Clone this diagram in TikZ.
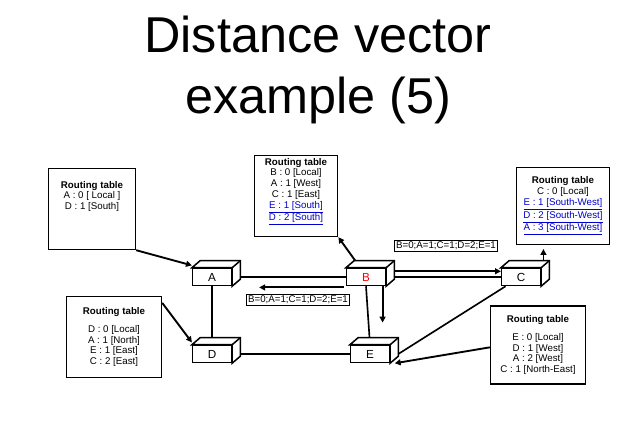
\documentclass[tikz,border=0pt]{standalone}
\usepackage{fontspec}
\setmainfont{Liberation Sans}
\usetikzlibrary{positioning,arrows.meta,calc}

\tikzset{
  router/.style={draw, line width=1.3pt, fill=white, minimum width=33pt, minimum height=14.5pt, inner sep=0pt, font=\fontsize{10}{11}\selectfont},
  table/.style={draw, line width=1.3pt, align=center, inner sep=1pt, font=\fontsize{8.3}{9.2}\selectfont},
  msg/.style={draw, line width=1pt, inner sep=1.5pt, font=\fontsize{8.3}{9}\selectfont},
  link/.style={line width=1.4pt},
  flow/.style={line width=1.6pt, -{Triangle[length=5pt,width=5pt]}}
}
\newcommand{\hl}[1]{\textcolor{blue!80!black}{\underline{#1}}}
% cube-like router: front face plus top and side
\newcommand{\cube}[1]{%
  \draw[line width=1.3pt, fill=white] (#1.north west) -- ++(7pt,6pt) -- ($(#1.north east)+(7pt,6pt)$) -- ($(#1.south east)+(7pt,6pt)$) -- (#1.south east) -- (#1.north east) -- cycle;
  \draw[line width=1.3pt] (#1.north east) -- ++(7pt,6pt);}

\begin{document}
\begin{tikzpicture}[x=0.03cm,y=-0.03cm]
\useasboundingbox (0,0) rectangle (638,442);

% title
\node[font=\fontsize{43}{52}\selectfont, align=center] (title) at (318,70) {Distance vector\\example (5)};

% routers
\node[router] (A) at (212,277) {A};
\node[router] (B) at (366,277) {\textcolor{red}{B}};
\node[router] (C) at (521,277) {C};
\node[router] (D) at (212,354) {D};
\node[router] (E) at (370,354) {E};

% links
\draw[link] (A.east) -- (B.west);
\draw[link] ($(B.east)+(7pt,0)$) -- (C.west);
\draw[link] (A.south) -- (D.north);
\draw[link] ($(D.east)+(7pt,0)$) -- (E.west);
\draw[link] (B.south) -- (E.north);
\draw[link] ($(C.south west)+(4pt,0)$) -- ($(E.east)+(7pt,0)$);
\foreach \r in {A,B,C,D,E} {\cube{\r}}

% tables
\node[table, minimum width=74pt, minimum height=69pt] (tA) at (92,209)
  {\textbf{Routing table}\\A : 0 [ Local ]\\D : 1 [South]\\[14pt]};
\node[table, minimum width=71pt, minimum height=69pt] (tB) at (296,196)
  {\textbf{Routing table}\\B : 0 [Local]\\A : 1 [West]\\C : 1 [East]\\\hl{E : 1 [South]}\\\hl{D : 2 [South]}\\[2pt]};
\node[table, minimum width=79pt, minimum height=66pt] (tC) at (563,206)
  {\textbf{Routing table}\\C : 0 [Local]\\\hl{E : 1 [South-West]}\\\hl{D : 2 [South-West]}\\\hl{A : 3 [South-West]}};
\node[table, minimum width=81pt, minimum height=69pt] (tD) at (114,337)
  {\textbf{Routing table}\\[6pt]D : 0 [Local]\\A : 1 [North]\\E : 1 [East]\\C : 2 [East]};
\node[table, minimum width=81pt, minimum height=67pt] (tE) at (538,345)
  {\textbf{Routing table}\\[6pt]E : 0 [Local]\\D : 1 [West]\\A : 2 [West]\\C : 1 [North-East]};

% messages
\node[msg] (mC) at (446,246) {B=0;A=1;C=1;D=2;E=1};
\node[msg] (mA) at (298,300) {B=0;A=1;C=1;D=2;E=1};

% flows
\draw[flow] ($(B.north east)+(7pt,-3pt)$) -- ($(C.north west)+(0,-3pt)$);
\draw[flow] ($(B.south west)+(-2pt,-1pt)$) -- ++(-72pt,0);
\draw[flow] ($(B.south east)+(-3pt,0)$) -- ++(0,-31pt);
\draw[flow] ($(B.north west)+(8pt,6pt)$) -- (tB.south east);
\draw[flow] ($(C.north east)+(2pt,6pt)$) -- ++(0,10pt);
\draw[flow] (tA.south east) -- ($(A.north west)+(0,2pt)$);
\draw[flow] (tD.north east) ++(0,-6pt) -- ($(D.north west)+(0,2pt)$);
\draw[flow] ($(tE.west)+(0,-2pt)$) -- ($(E.south east)+(4pt,0)$);
\end{tikzpicture}
\end{document}
